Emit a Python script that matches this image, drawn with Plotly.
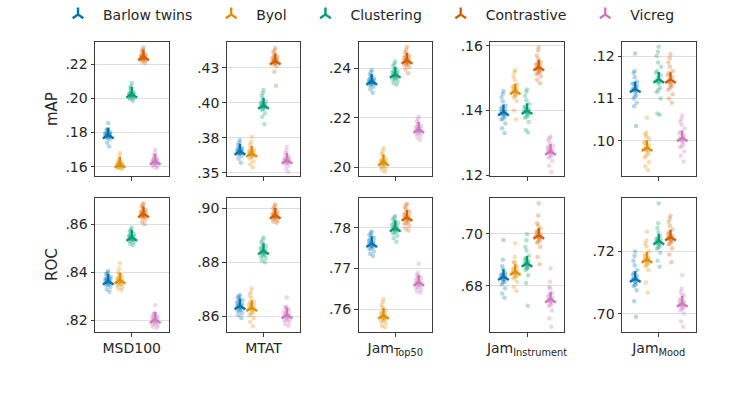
import numpy as np
import plotly.graph_objects as go

# ---------------- data ----------------
GROUPS = ["Barlow twins", "Byol", "Clustering", "Contrastive", "Vicreg"]
COLORS = ["#0173b2", "#de8f05", "#029e73", "#d55e00", "#cc78bc"]
DATASETS = ["MSD100", "MTAT", "Jam<sub>Top50</sub>", "Jam<sub>Instrument</sub>", "Jam<sub>Mood</sub>"]
METRICS = ["mAP", "ROC"]

MAP_MSD100 = [
    [.1790, .1775, .1802, .1781, .1855, .1768, .1795, .1788, .1718, .1810, .1779, .1792, .1740, .1785, .1799, .1772, .1820, .1786, .1760, .1815],
    [.1610, .1625, .1598, .1615, .1680, .1605, .1620, .1592, .1612, .1640, .1600, .1618, .1585, .1608, .1630, .1603, .1660, .1611, .1595, .1622],
    [.2020, .2035, .2010, .2025, .2089, .2005, .2030, .2015, .2022, .2060, .2000, .2028, .1986, .2018, .2045, .2012, .2070, .2019, .1995, .2032],
    [.2240, .2252, .2228, .2245, .2297, .2225, .2250, .2232, .2238, .2275, .2220, .2248, .2206, .2235, .2262, .2230, .2285, .2237, .2215, .2255],
    [.1630, .1645, .1618, .1635, .1700, .1612, .1640, .1622, .1628, .1665, .1605, .1638, .1592, .1625, .1655, .1615, .1680, .1632, .1600, .1642],
]
MAP_MTAT = [
    [.3650, .3665, .3638, .3655, .3734, .3630, .3670, .3642, .3648, .3700, .3620, .3660, .3571, .3645, .3685, .3635, .3715, .3652, .3600, .3675],
    [.3635, .3655, .3610, .3640, .3757, .3600, .3660, .3625, .3632, .3700, .3580, .3648, .3536, .3628, .3680, .3615, .3720, .3638, .3560, .3665],
    [.3980, .4000, .3960, .3985, .4090, .3950, .4010, .3970, .3978, .4050, .3925, .3990, .3846, .3975, .4030, .3955, .4070, .3982, .3900, .4005],
    [.4300, .4320, .4285, .4305, .4393, .4275, .4330, .4290, .4298, .4360, .4260, .4312, .4121, .4295, .4345, .4280, .4375, .4302, .4221, .4325],
    [.3585, .3600, .3570, .3590, .3686, .3562, .3610, .3578, .3583, .3640, .3550, .3595, .3507, .3580, .3625, .3568, .3660, .3588, .3530, .3605],
]
MAP_TOP50 = [
    [.2345, .2355, .2335, .2350, .2393, .2330, .2360, .2340, .2346, .2375, .2325, .2352, .2301, .2343, .2368, .2338, .2385, .2348, .2315, .2358],
    [.2018, .2030, .2008, .2022, .2077, .2002, .2035, .2012, .2017, .2055, .1995, .2025, .1982, .2015, .2045, .2005, .2065, .2020, .1990, .2028],
    [.2372, .2385, .2360, .2378, .2427, .2355, .2390, .2365, .2370, .2410, .2348, .2380, .2333, .2368, .2400, .2358, .2418, .2375, .2340, .2388],
    [.2430, .2442, .2418, .2435, .2487, .2412, .2450, .2422, .2428, .2465, .2405, .2438, .2380, .2425, .2458, .2415, .2475, .2432, .2395, .2445],
    [.2150, .2162, .2140, .2155, .2204, .2135, .2168, .2145, .2149, .2185, .2128, .2158, .2110, .2147, .2178, .2138, .2195, .2152, .2120, .2165],
]
MAP_INSTRUMENT = [
    [.1392, .1405, .1380, .1398, .1460, .1372, .1415, .1385, .1390, .1440, .1360, .1402, .1331, .1388, .1428, .1375, .1452, .1395, .1345, .1410],
    [.1460, .1472, .1448, .1465, .1525, .1440, .1480, .1452, .1458, .1505, .1430, .1468, .1372, .1455, .1495, .1445, .1518, .1462, .1400, .1475],
    [.1398, .1410, .1385, .1402, .1465, .1378, .1420, .1390, .1395, .1445, .1365, .1405, .1332, .1392, .1432, .1380, .1458, .1400, .1340, .1412],
    [.1530, .1542, .1518, .1535, .1595, .1512, .1550, .1522, .1528, .1570, .1505, .1538, .1484, .1525, .1560, .1515, .1585, .1532, .1495, .1545],
    [.1275, .1285, .1262, .1278, .1320, .1255, .1292, .1268, .1272, .1308, .1245, .1280, .1210, .1270, .1300, .1258, .1315, .1276, .1230, .1288],
]
MAP_MOOD = [
    [.1120, .1135, .1108, .1125, .1206, .1100, .1135, .1115, .1118, .1160, .1090, .1130, .1035, .1122, .1150, .1105, .1165, .1124, .1082, .1140],
    [.0982, .0995, .0970, .0988, .1055, .0962, .1005, .0975, .0980, .1010, .0950, .0990, .0931, .0978, .1015, .0965, .1020, .0984, .0940, .0998],
    [.1142, .1160, .1125, .1148, .1222, .1115, .1175, .1135, .1140, .1200, .1100, .1155, .1062, .1138, .1185, .1120, .1210, .1145, .1065, .1165],
    [.1140, .1155, .1128, .1145, .1204, .1120, .1165, .1132, .1138, .1185, .1110, .1150, .1090, .1136, .1175, .1125, .1195, .1142, .1100, .1160],
    [.1005, .1018, .0992, .1010, .1060, .0985, .1030, .0998, .1002, .1045, .0975, .1012, .0952, .1000, .1038, .0988, .1052, .1007, .0965, .1022],
]
ROC_MSD100 = [
    [.8362, .8372, .8350, .8367, .8405, .8345, .8380, .8355, .8360, .8392, .8338, .8370, .8318, .8358, .8385, .8348, .8398, .8365, .8328, .8375],
    [.8362, .8375, .8350, .8368, .8437, .8345, .8385, .8355, .8360, .8400, .8338, .8370, .8325, .8358, .8390, .8348, .8415, .8365, .8332, .8378],
    [.8544, .8552, .8535, .8548, .8586, .8530, .8560, .8538, .8542, .8572, .8525, .8550, .8513, .8540, .8565, .8532, .8578, .8546, .8518, .8555],
    [.8642, .8652, .8632, .8646, .8688, .8628, .8660, .8636, .8640, .8675, .8620, .8650, .8600, .8638, .8668, .8630, .8682, .8644, .8610, .8656],
    [.8200, .8212, .8188, .8205, .8263, .8182, .8225, .8192, .8198, .8225, .8178, .8208, .8168, .8195, .8218, .8185, .8230, .8202, .8172, .8215],
]
ROC_MTAT = [
    [.8638, .8650, .8625, .8642, .8680, .8620, .8660, .8630, .8636, .8670, .8612, .8645, .8595, .8634, .8665, .8622, .8675, .8640, .8605, .8655],
    [.8630, .8645, .8615, .8635, .8704, .8605, .8655, .8622, .8628, .8680, .8595, .8640, .8564, .8625, .8668, .8610, .8690, .8633, .8580, .8650],
    [.8840, .8852, .8828, .8845, .8892, .8822, .8862, .8832, .8838, .8875, .8815, .8848, .8801, .8835, .8868, .8825, .8884, .8842, .8808, .8856],
    [.8972, .8980, .8965, .8975, .9014, .8960, .8988, .8968, .8970, .9000, .8955, .8978, .8947, .8969, .8994, .8962, .9008, .8974, .8950, .8984],
    [.8602, .8615, .8590, .8608, .8670, .8585, .8625, .8596, .8600, .8630, .8580, .8610, .8566, .8598, .8635, .8588, .8635, .8605, .8572, .8618],
]
ROC_TOP50 = [
    [.7760, .7768, .7752, .7763, .7791, .7748, .7775, .7755, .7758, .7783, .7742, .7765, .7731, .7756, .7779, .7750, .7787, .7762, .7736, .7771],
    [.7582, .7590, .7575, .7585, .7625, .7570, .7598, .7578, .7580, .7610, .7566, .7588, .7556, .7577, .7604, .7572, .7618, .7583, .7560, .7594],
    [.7799, .7807, .7790, .7802, .7829, .7786, .7813, .7794, .7797, .7821, .7780, .7805, .7766, .7795, .7817, .7788, .7825, .7800, .7774, .7810],
    [.7824, .7832, .7815, .7827, .7859, .7810, .7840, .7818, .7822, .7850, .7805, .7830, .7793, .7820, .7845, .7812, .7855, .7825, .7798, .7835],
    [.7664, .7672, .7656, .7667, .7712, .7652, .7680, .7660, .7662, .7684, .7648, .7670, .7641, .7661, .7678, .7654, .7690, .7665, .7644, .7676],
]
ROC_INSTRUMENT = [
    [.6830, .6845, .6815, .6838, .6976, .6805, .6850, .6822, .6828, .6875, .6790, .6840, .6754, .6825, .6862, .6812, .6900, .6834, .6770, .6842],
    [.6850, .6862, .6835, .6855, .6963, .6828, .6875, .6842, .6848, .6890, .6815, .6858, .6780, .6845, .6890, .6832, .6910, .6852, .6795, .6868],
    [.6884, .6900, .6868, .6890, .6998, .6860, .6915, .6875, .6880, .6950, .6840, .6895, .6723, .6878, .6935, .6865, .6975, .6888, .6810, .6905],
    [.6990, .7005, .6975, .6995, .7117, .6965, .7020, .6982, .6988, .7040, .6950, .7000, .6882, .6985, .7030, .6970, .7070, .6992, .6910, .7010],
    [.6745, .6758, .6730, .6750, .6867, .6722, .6772, .6738, .6742, .6795, .6705, .6755, .6642, .6740, .6790, .6728, .6815, .6748, .6675, .6765],
]
ROC_MOOD = [
    [.7110, .7125, .7095, .7115, .7199, .7088, .7140, .7102, .7108, .7170, .7075, .7120, .6990, .7105, .7155, .7092, .7185, .7112, .7040, .7130],
    [.7172, .7185, .7160, .7178, .7263, .7152, .7200, .7165, .7170, .7225, .7140, .7180, .7068, .7168, .7215, .7155, .7235, .7175, .7100, .7190],
    [.7229, .7242, .7215, .7235, .7354, .7208, .7250, .7222, .7226, .7275, .7195, .7238, .7150, .7225, .7262, .7212, .7290, .7232, .7170, .7240],
    [.7242, .7255, .7230, .7248, .7314, .7222, .7270, .7235, .7240, .7295, .7210, .7250, .7165, .7238, .7282, .7225, .7305, .7245, .7190, .7262],
    [.7030, .7042, .7018, .7035, .7124, .7010, .7058, .7022, .7028, .7070, .7000, .7038, .6958, .7025, .7060, .7015, .7080, .7032, .6975, .7048],
]

MAP_TICKS = [[.16, .18, .20, .22], [.35, .375, .40, .425], [.20, .22, .24], [.12, .14, .16], [.10, .11, .12]]
MAP_TICKTEXT = [[".16", ".18", ".20", ".22"], [".35", ".38", ".40", ".43"], [".20", ".22", ".24"], [".12", ".14", ".16"], [".10", ".11", ".12"]]
ROC_TICKS = [[.82, .84, .86], [.86, .88, .90], [.76, .77, .78], [.68, .70], [.70, .72]]
ROC_TICKTEXT = [[".82", ".84", ".86"], [".86", ".88", ".90"], [".76", ".77", ".78"], [".68", ".70"], [".70", ".72"]]

PANELS = [[MAP_MSD100, MAP_MTAT, MAP_TOP50, MAP_INSTRUMENT, MAP_MOOD],
          [ROC_MSD100, ROC_MTAT, ROC_TOP50, ROC_INSTRUMENT, ROC_MOOD]]
TICKS = [MAP_TICKS, ROC_TICKS]
TICKTEXT = [MAP_TICKTEXT, ROC_TICKTEXT]

# ---------------- layout constants ----------------
W, H = 741, 396
Y_RANGES = [
    [(.1546, .2329), (.3476, .4434), (.1965, .2506), (.1198, .16115), (.09176, .1233)],
    [(.8150, .8710), (.8543, .9038), (.75444, .7873), (.6622, .7137), (.6941, .7371)],
]
COL_LEFT = [95 + 131.75 * i for i in range(5)]
PW = 73.5
ROW_PX = [(42, 176), (198, 332)]
OFFSETS = [-0.32, -0.16, 0.0, 0.16, 0.32]
FONT = "DejaVu Sans"
TXT = "#262626"
SPINE = "#3c3c3c"
GRID = "#dedede"
LEGEND_PAD = "\u00a0\u00a0"


def rgba(hexc, a):
    h = hexc.lstrip("#")
    return f"rgba({int(h[0:2],16)},{int(h[2:4],16)},{int(h[4:6],16)},{a})"


fig = go.Figure()
layout = {}
for r in range(2):
    for c in range(5):
        idx = r * 5 + c + 1
        sx = "" if idx == 1 else str(idx)
        xa, ya = "x" + sx, "y" + sx
        for g in range(5):
            vals = PANELS[r][c][g]
            fig.add_trace(go.Box(
                x=[OFFSETS[g]] * len(vals), y=vals, xaxis=xa, yaxis=ya,
                boxpoints="all", jitter=0.9, pointpos=0, width=0.11,
                fillcolor="rgba(0,0,0,0)", line=dict(color="rgba(0,0,0,0)", width=0),
                whiskerwidth=0,
                marker=dict(color=rgba(COLORS[g], 0.3), size=4.5, line=dict(width=0)),
                showlegend=False, hoverinfo="y", legendgroup=GROUPS[g],
            ))
            fig.add_trace(go.Scatter(
                x=[OFFSETS[g]], y=[float(np.mean(vals))], xaxis=xa, yaxis=ya,
                mode="markers", name=GROUPS[g] + LEGEND_PAD, legendgroup=GROUPS[g],
                marker=dict(symbol="y-up", size=9, color=COLORS[g],
                            line=dict(color=COLORS[g], width=2.4)),
                showlegend=(idx == 1),
            ))
        l = COL_LEFT[c]
        top, bot = ROW_PX[r]
        layout["xaxis" + sx] = dict(
            domain=[l / W, (l + PW) / W], range=[-0.5, 0.5], anchor=ya,
            tickvals=[0], ticktext=[DATASETS[c] if r == 1 else " "],
            ticks="outside", ticklen=3.5, tickcolor=SPINE, tickwidth=1,
            showline=True, mirror=True, linecolor=SPINE, linewidth=1,
            showgrid=False, zeroline=False, fixedrange=True,
            tickfont=dict(family=FONT, size=14, color=TXT),
        )
        layout["yaxis" + sx] = dict(
            domain=[1 - bot / H, 1 - top / H], range=list(Y_RANGES[r][c]), anchor=xa,
            tickvals=TICKS[r][c], ticktext=TICKTEXT[r][c],
            ticks="outside", ticklen=3.5, tickcolor=SPINE, tickwidth=1,
            showline=True, mirror=True, linecolor=SPINE, linewidth=1,
            showgrid=True, gridcolor=GRID, gridwidth=1, zeroline=False,
            tickfont=dict(family=FONT, size=14, color=TXT),
        )

annotations = []
for r in range(2):
    top, bot = ROW_PX[r]
    annotations.append(dict(
        text=METRICS[r], x=52 / W, y=1 - (top + bot) / 2 / H, xref="paper", yref="paper",
        showarrow=False, textangle=-90, xanchor="center", yanchor="middle",
        font=dict(family=FONT, size=15, color=TXT),
    ))

fig.update_layout(
    width=W, height=H, margin=dict(l=0, r=0, t=0, b=0, autoexpand=False),
    paper_bgcolor="white", plot_bgcolor="white",
    showlegend=True,
    legend=dict(orientation="h", x=0.5, xanchor="center", y=1 - 15 / H, yanchor="middle",
                font=dict(family=FONT, size=14, color=TXT), bgcolor="rgba(0,0,0,0)",
                itemwidth=40, itemclick=False, itemdoubleclick=False),
    annotations=annotations,
    font=dict(family=FONT, color=TXT),
    **layout,
)

fig.write_html("out.html", config={"displayModeBar": False},
               post_script="document.body.style.margin='0';")
